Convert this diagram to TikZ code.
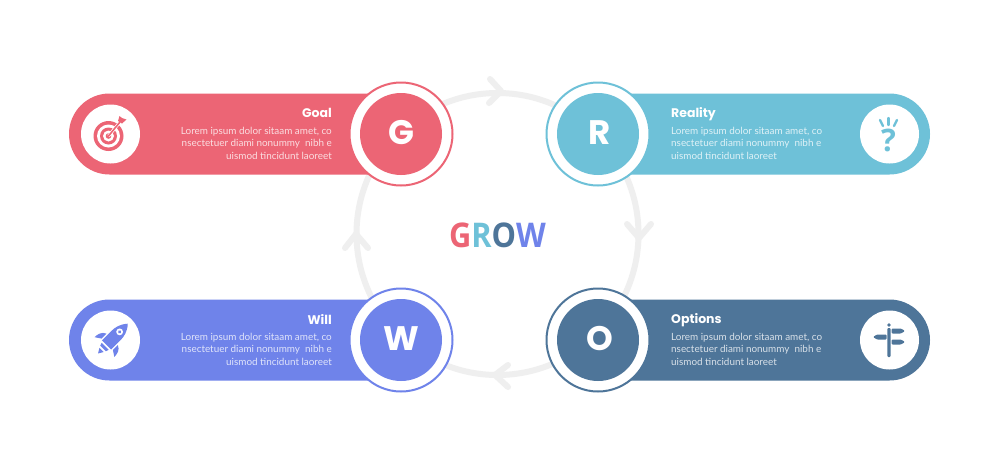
\documentclass[tikz,border=0pt]{standalone}
\usepackage{fontspec}
\setmainfont{Lato}
\newfontfamily\headfont{Poppins}
\newfontfamily\growfont{Open Sans}
\definecolor{goalred}{HTML}{EC6575}
\definecolor{realityteal}{HTML}{6EC1D8}
\definecolor{willblue}{HTML}{6F83EA}
\definecolor{optionsteel}{HTML}{4E7599}
\definecolor{ringgrey}{HTML}{EFEFEF}
\tikzset{
  lorem/.style={text=white,text opacity=0.78,font=\fontsize{9.9}{12.3}\selectfont,inner sep=0pt},
  heading/.style={text=white,font=\headfont\fontsize{12.5}{14}\selectfont\bfseries,inner sep=0pt},
  bigletter/.style={text=white,font=\headfont\fontsize{34}{36}\selectfont\bfseries,inner sep=0pt},
  growletter/.style={font=\growfont\fontsize{34}{36}\selectfont\bfseries,inner sep=0pt,transform shape,xscale=0.905},
  chevron/.style={ringgrey,line width=6pt,line cap=round,line join=round}
}
\begin{document}
\begin{tikzpicture}[x=1pt,y=-1pt]
  \useasboundingbox (0,0) rectangle (1000,461);
  \fill[white] (0,0) rectangle (1000,461);
  % ring behind the panels
  \draw[ringgrey,line width=6pt] (497.5,234) circle (141);
  \draw[chevron] (490,79) -- (501,91) -- (489,103);
  \draw[chevron] (627,224) -- (639,238) -- (651,224);
  \draw[chevron] (508,365) -- (495,375) -- (508,387);
  \draw[chevron] (345,248) -- (356,234) -- (368,248);
  % left panels
  \foreach \n/\y/\c/\t/\l in {goal/134/goalred/Goal/G,will/340/willblue/Will/W}
  {
    \fill[\c,rounded corners=40.5pt] (69,\y-40.5) rectangle (435,\y+40.5);
    \fill[white] (110.5,\y) circle (29.5);
    \draw[\c,line width=2pt,fill=white] (401,\y) circle (51.5);
    \fill[\c] (401,\y) circle (41);
    \node[bigletter] (\n letter) at (401,\y-1.5) {\l};
    \node[heading,anchor=east] (\n head) at (332,\y-21) {\t};
    \node[lorem,anchor=north east,align=right] (\n text) at (332,\y-7)
      {Lorem ipsum dolor sitaam amet, co\\nsectetuer diami nonummy\ \ nibh e\\uismod tincidunt laoreet};
  }
  % right panels
  \foreach \n/\y/\c/\t/\l in {reality/134/realityteal/Reality/R,options/340/optionsteel/Options/O}
  {
    \fill[\c,rounded corners=40.5pt] (565,\y-40.5) rectangle (930,\y+40.5);
    \fill[white] (889.5,\y) circle (29.5);
    \draw[\c,line width=2pt,fill=white] (598,\y) circle (51.5);
    \fill[\c] (598,\y) circle (41);
    \node[bigletter] (\n letter) at (600,\y-1.5) {\l};
    \node[heading,anchor=west] (\n head) at (671,\y-20) {\t};
    \node[lorem,anchor=north west,align=left] (\n text) at (671,\y-7)
      {Lorem ipsum dolor sitaam amet, co\\nsectetuer diami nonummy\ \ nibh e\\uismod tincidunt laoreet};
  }
  % target
  \foreach \r/\c in {15/goalred,11.5/white,8.5/goalred,5.5/white,2.8/goalred}
    \fill[\c] (108.5,136) circle (\r);
  \draw[white,line width=3pt] (108.5,136) -- (120,122);
  \draw[goalred,line width=1.6pt] (108.5,136) -- (120,122);
  \fill[goalred] (118,121) -- (119.5,116) -- (122,118) -- (126.5,119.5) -- (122,123.5) -- cycle;
  % rocket
  \begin{scope}[shift={(111.5,340)},rotate=-45]
    \fill[willblue] (0,-23) .. controls (5.5,-17) and (6.5,-11) .. (6.5,-6) -- (6.5,7) -- (-6.5,7) -- (-6.5,-6) .. controls (-6.5,-11) and (-5.5,-17) .. (0,-23) -- cycle;
    \fill[white] (0,-11.5) circle (3.4);
    \fill[willblue] (0,-11.5) circle (1.7);
    \fill[willblue] (-5,9) -- (5,9) -- (4,12) -- (-4,12) -- cycle;
    \fill[willblue] (-8,-1) .. controls (-13,1) and (-14,6) .. (-14,10) -- (-8,6) -- cycle;
    \fill[willblue] (8,-1) .. controls (13,1) and (14,6) .. (14,10) -- (8,6) -- cycle;
    \fill[willblue] (-3,14) -- (3,14) -- (0,19) -- cycle;
  \end{scope}
  % question mark
  \node[font=\growfont\fontsize{31}{33}\selectfont\bfseries,text=realityteal,inner sep=0pt] (realitymark) at (888.5,140) {?};
  \draw[realityteal,line width=2.4pt,line cap=round] (888.5,118) -- (888.5,125);
  \draw[realityteal,line width=2.4pt,line cap=round] (880,120) -- (883,126);
  \draw[realityteal,line width=2.4pt,line cap=round] (897,120) -- (894,126);
  % signpost
  \fill[optionsteel,rounded corners=1pt] (887.3,328) rectangle (890.7,357);
  \fill[optionsteel] (889,325) circle (1.9);
  \fill[optionsteel,rounded corners=1pt] (886.5,334.5) -- (877,334.5) -- (873,337) -- (877,339.5) -- (886.5,339.5) -- cycle;
  \fill[optionsteel,rounded corners=1pt] (891.5,328.5) -- (901,328.5) -- (905,331) -- (901,333.5) -- (891.5,333.5) -- cycle;
  \fill[optionsteel,rounded corners=1pt] (891.5,339.5) -- (901,339.5) -- (905,342) -- (901,344.5) -- (891.5,344.5) -- cycle;
  % title
  \node[growletter] (grow) at (497.5,235) {\textcolor{goalred}{G}\textcolor{realityteal}{R}\textcolor{optionsteel}{O}\textcolor{willblue}{W}};
\end{tikzpicture}
\end{document}
